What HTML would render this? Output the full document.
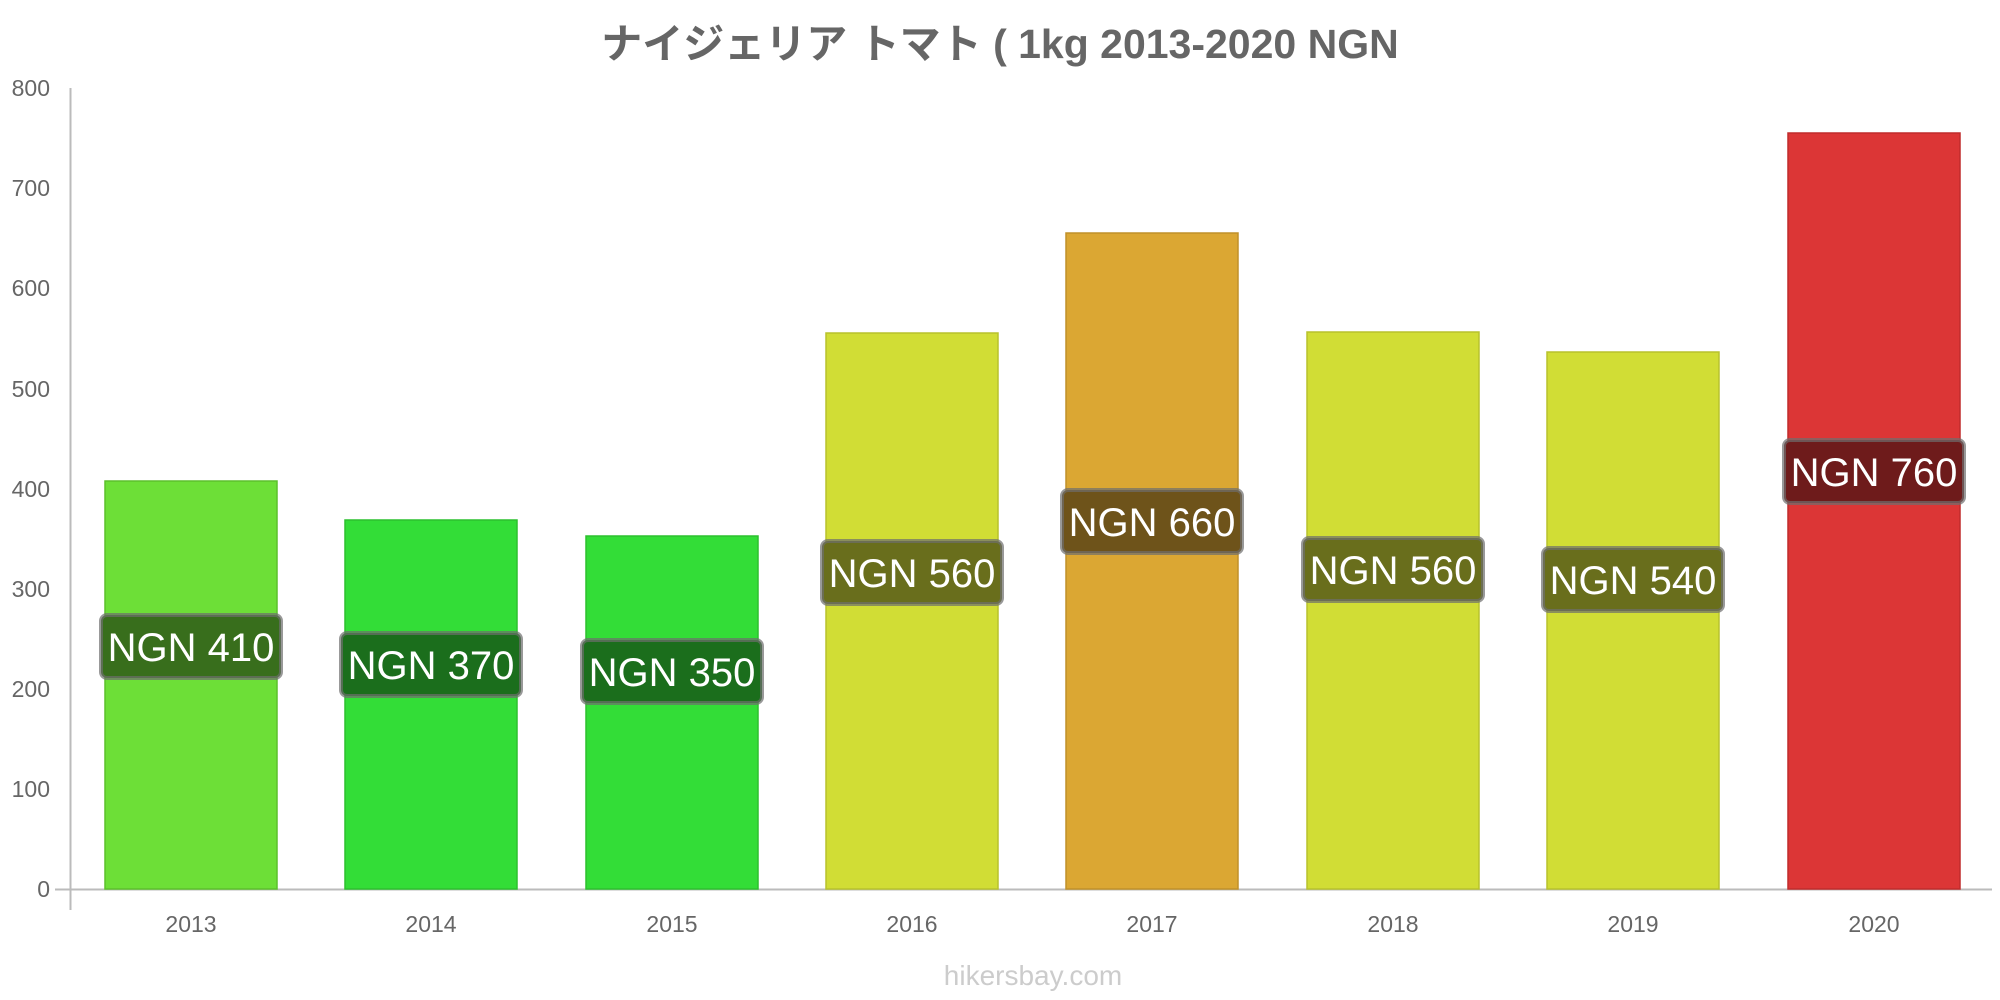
<!DOCTYPE html>
<html><head><meta charset="utf-8"><style>
body{margin:0;background:#fff}
svg{display:block}
</style></head><body>
<svg width="2000" height="1000" xmlns="http://www.w3.org/2000/svg" font-family="Liberation Sans, Noto Sans CJK JP, sans-serif">
<text x="1000" y="58" text-anchor="middle" font-size="41" font-weight="bold" fill="#666">ナイジェリア トマト ( 1kg 2013-2020 NGN</text>
<g font-size="23" fill="#666" text-anchor="end">
<text x="50" y="897">0</text><text x="50" y="797">100</text><text x="50" y="697">200</text><text x="50" y="597">300</text><text x="50" y="497">400</text><text x="50" y="397">500</text><text x="50" y="296">600</text><text x="50" y="196">700</text><text x="50" y="96">800</text>
</g>
<line x1="70.5" y1="88" x2="70.5" y2="910" stroke="#bbb" stroke-width="2"/>
<line x1="55" y1="889.5" x2="1992" y2="889.5" stroke="#bbb" stroke-width="2"/>
<g stroke-width="1.5">
<rect x="105" y="481" width="172" height="408" fill="#6ddf37" stroke="#5cc02c"/>
<rect x="345" y="520" width="172" height="369" fill="#33dd37" stroke="#2cc02f"/>
<rect x="586" y="536" width="172" height="353" fill="#33dd37" stroke="#2cc02f"/>
<rect x="826" y="333" width="172" height="556" fill="#d1dd35" stroke="#b8c22d"/>
<rect x="1066" y="233" width="172" height="656" fill="#dba733" stroke="#c0912a"/>
<rect x="1307" y="332" width="172" height="557" fill="#d1dd35" stroke="#b8c22d"/>
<rect x="1547" y="352" width="172" height="537" fill="#d1dd35" stroke="#b8c22d"/>
<rect x="1788" y="133" width="172" height="756" fill="#dc3636" stroke="#c02c2c"/>
</g>
<g font-size="40" fill="#fff" text-anchor="middle">
<rect x="101" y="615" width="180" height="63" rx="6" fill="#386e1c" stroke="rgba(110,110,110,0.7)" stroke-width="4"/><text x="191" y="661">NGN 410</text>
<rect x="341" y="633" width="180" height="63" rx="6" fill="#1b6e1c" stroke="rgba(110,110,110,0.7)" stroke-width="4"/><text x="431" y="679">NGN 370</text>
<rect x="582" y="640" width="180" height="63" rx="6" fill="#1b6e1c" stroke="rgba(110,110,110,0.7)" stroke-width="4"/><text x="672" y="686">NGN 350</text>
<rect x="822" y="541" width="180" height="63" rx="6" fill="#696e1c" stroke="rgba(110,110,110,0.7)" stroke-width="4"/><text x="912" y="587">NGN 560</text>
<rect x="1062" y="490" width="180" height="63" rx="6" fill="#6e531a" stroke="rgba(110,110,110,0.7)" stroke-width="4"/><text x="1152" y="536">NGN 660</text>
<rect x="1303" y="538" width="180" height="63" rx="6" fill="#696e1c" stroke="rgba(110,110,110,0.7)" stroke-width="4"/><text x="1393" y="584">NGN 560</text>
<rect x="1543" y="548" width="180" height="63" rx="6" fill="#696e1c" stroke="rgba(110,110,110,0.7)" stroke-width="4"/><text x="1633" y="594">NGN 540</text>
<rect x="1784" y="440" width="180" height="63" rx="6" fill="#6e1b1b" stroke="rgba(110,110,110,0.7)" stroke-width="4"/><text x="1874" y="486">NGN 760</text>
</g>
<g font-size="23" fill="#666" text-anchor="middle">
<text x="191" y="932">2013</text><text x="431" y="932">2014</text><text x="672" y="932">2015</text><text x="912" y="932">2016</text><text x="1152" y="932">2017</text><text x="1393" y="932">2018</text><text x="1633" y="932">2019</text><text x="1874" y="932">2020</text>
</g>
<text x="1033" y="985" text-anchor="middle" font-size="28" fill="#ccc">hikersbay.com</text>
</svg>
</body></html>
